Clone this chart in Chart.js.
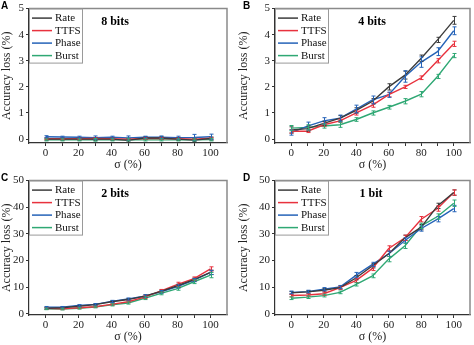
<!DOCTYPE html>
<html><head><meta charset="utf-8">
<script src="https://cdn.jsdelivr.net/npm/chart.js@4.4.0/dist/chart.umd.min.js"></script>
<style>
html,body{margin:0;padding:0;background:#fff;width:474px;height:345px;overflow:hidden}
.p{position:absolute;width:237px;height:172px}
.lab{position:absolute;font:bold 10px "Liberation Sans",Arial,sans-serif;color:#000}
</style></head><body>
<div class="p" style="left:0;top:0"><canvas id="cA" width="237" height="172"></canvas></div>
<div class="p" style="left:237px;top:0"><canvas id="cB" width="237" height="172"></canvas></div>
<div class="p" style="left:0;top:172px"><canvas id="cC" width="237" height="172"></canvas></div>
<div class="p" style="left:237px;top:172px"><canvas id="cD" width="237" height="172"></canvas></div>
<div class="lab" style="left:1px;top:0px">A</div>
<div class="lab" style="left:243px;top:0px">B</div>
<div class="lab" style="left:1px;top:172px">C</div>
<div class="lab" style="left:243px;top:172px">D</div>
<script>
// ---- data ----
const sigma = [0,10,20,30,40,50,60,70,80,90,100];
const seriesNames = ["Rate","TTFS","Phase","Burst"];
const ticksSmall = [0,1,2,3,4,5];
const ticksLarge = [0,10,20,30,40,50];
const xTickVals = [0,10,20,30,40,50,60,70,80,90,100];

// 8 bits
const rate8  = [0.00,0.00,0.00,0.00,0.00,-0.05,0.04,0.04,0.00,-0.04,0.02];
const ttfs8  = [0.01,0.01,0.01,0.02,0.01,0.00,0.02,0.02,0.01,0.00,0.03];
const phase8 = [0.09,0.08,0.07,0.05,0.07,0.04,0.07,0.07,0.05,0.06,0.09];
const burst8 = [-0.03,-0.03,-0.03,-0.03,-0.03,-0.02,-0.03,-0.03,-0.03,-0.03,-0.02];
const rate8Err  = [0.04,0.04,0.04,0.05,0.04,0.06,0.05,0.05,0.05,0.06,0.06];
const ttfs8Err  = [0.03,0.03,0.03,0.03,0.03,0.03,0.03,0.03,0.03,0.03,0.03];
const phase8Err = [0.04,0.03,0.04,0.07,0.04,0.08,0.04,0.05,0.06,0.12,0.1];
const burst8Err = [0.04,0.04,0.04,0.05,0.04,0.05,0.04,0.04,0.04,0.04,0.05];

// 4 bits
const rate4  = [0.35,0.40,0.60,0.80,1.10,1.45,2.00,2.45,3.10,3.80,4.55];
const ttfs4  = [0.30,0.30,0.55,0.70,1.00,1.30,1.70,2.00,2.35,3.00,3.65];
const phase4 = [0.25,0.50,0.70,0.80,1.15,1.50,1.70,2.40,2.95,3.35,4.15];
const burst4 = [0.42,0.45,0.50,0.55,0.75,1.00,1.22,1.45,1.72,2.40,3.20];
const rate4Err  = [0.12,0.10,0.08,0.10,0.10,0.10,0.12,0.15,0.12,0.10,0.15];
const ttfs4Err  = [0.07,0.05,0.06,0.06,0.08,0.08,0.08,0.06,0.07,0.08,0.10];
const phase4Err = [0.10,0.15,0.12,0.12,0.15,0.15,0.10,0.22,0.20,0.15,0.15];
const burst4Err = [0.10,0.10,0.08,0.10,0.07,0.08,0.07,0.10,0.10,0.08,0.08];

// 2 bits
const rate2  = [2.0,2.2,2.8,3.4,4.5,5.3,6.6,8.4,10.5,12.8,15.5];
const ttfs2  = [2.0,1.8,2.2,2.6,3.5,4.5,6.2,8.6,11.0,13.2,16.8];
const phase2 = [2.4,2.4,3.1,3.5,4.6,5.5,6.6,8.2,10.2,12.6,15.5];
const burst2 = [1.8,1.7,2.0,2.5,3.3,4.0,5.8,7.6,9.4,12.0,14.5];
const rate2Err  = [0.4,0.3,0.3,0.3,0.4,0.4,0.5,0.5,0.6,0.6,0.8];
const ttfs2Err  = [0.3,0.3,0.3,0.3,0.4,0.4,0.5,0.5,0.8,0.6,0.8];
const phase2Err = [0.3,0.3,0.3,0.3,0.4,0.4,0.5,0.5,0.6,0.6,0.8];
const burst2Err = [0.3,0.3,0.3,0.3,0.4,0.4,0.5,0.5,0.6,0.7,1.0];

// 1 bit
const rate1  = [7.8,8.2,8.8,9.8,13.5,18.0,22.5,28.5,32.5,40.5,45.5];
const ttfs1  = [6.8,7.0,7.5,9.8,12.5,17.0,24.5,28.5,35.5,39.5,45.5];
const phase1 = [8.0,8.3,9.2,10.0,14.5,18.5,22.5,27.5,32.0,35.5,39.5];
const burst1 = [5.8,6.2,6.8,8.0,11.0,14.2,20.5,25.5,33.0,36.5,41.5];
const rate1Err  = [0.5,0.5,0.6,0.6,0.8,0.8,1.0,1.0,1.0,1.0,1.0];
const ttfs1Err  = [0.5,0.5,0.6,0.6,0.8,0.8,1.0,1.0,1.0,1.0,1.0];
const phase1Err = [0.5,0.5,0.6,0.6,1.0,0.8,1.0,1.0,1.0,1.0,1.2];
const burst1Err = [0.5,0.5,0.5,0.5,0.6,0.7,1.0,1.0,1.0,1.0,1.2];

const colors = ["#3c3c3c","#e8323e","#2563b8","#2fa874"];
const SERIF = '"Liberation Serif","Times New Roman",serif';

const errorBars = {
  id:'errorBars',
  afterDatasetsDraw(chart){
    const {ctx} = chart; const xs = chart.scales.x, ys = chart.scales.y;
    ctx.save();
    chart.data.datasets.forEach((ds)=>{
      ctx.strokeStyle = ds.borderColor; ctx.lineWidth = 1;
      ds.data.forEach((p,i)=>{
        const e = ds.err[i];
        const x = Math.round(xs.getPixelForValue(p.x))+0.5;
        const y1 = ys.getPixelForValue(p.y+e), y2 = ys.getPixelForValue(p.y-e);
        ctx.beginPath();
        ctx.moveTo(x,y1); ctx.lineTo(x,y2);
        ctx.moveTo(x-2,y1); ctx.lineTo(x+2,y1);
        ctx.moveTo(x-2,y2); ctx.lineTo(x+2,y2);
        ctx.stroke();
      });
    });
    ctx.restore();
  }
};

const frameLegend = {
  id:'frameLegend',
  afterDraw(chart, args, opts){
    const {ctx, chartArea:a} = chart;
    ctx.save();
    ctx.strokeStyle = "#8a8a8a"; ctx.lineWidth = 1.5;
    ctx.beginPath();
    ctx.moveTo(a.left, a.top); ctx.lineTo(a.right, a.top); ctx.lineTo(a.right, a.bottom);
    ctx.stroke();
    const lx = a.left, ly = a.top, lw = opts.lw, lh = 54;
    ctx.fillStyle = "#fff"; ctx.fillRect(lx+0.5, ly+0.5, lw, lh);
    ctx.strokeStyle = "#9a9a9a"; ctx.lineWidth = 1;
    ctx.strokeRect(lx+0.5, ly+0.5, lw, lh);
    ctx.font = '11px ' + SERIF; ctx.textBaseline = 'middle'; ctx.textAlign = 'left';
    chart.data.datasets.forEach((ds,i)=>{
      const yy = ly + 9.5 + i*12.5;
      ctx.strokeStyle = ds.borderColor; ctx.lineWidth = 1.5;
      ctx.beginPath(); ctx.moveTo(lx+3, yy); ctx.lineTo(lx+23, yy); ctx.stroke();
      ctx.fillStyle = "#111"; ctx.fillText(ds.label, lx+26, yy+0.5);
    });
    ctx.font = 'bold 12px ' + SERIF; ctx.fillStyle = "#000"; ctx.textAlign = 'center';
    ctx.fillText(opts.title, opts.tx, a.top + 13);
    ctx.restore();
  }
};

function makeChart(id, vals, errs, yTicks, yMin, yMax, leftW, rightPad, title, tx){
  const datasets = seriesNames.map((n,i)=>({
    label:n, data:vals[i].map((v,j)=>({x:sigma[j], y:v})), err:errs[i],
    borderColor:colors[i], backgroundColor:colors[i],
    borderWidth:1.4, pointRadius:0, tension:0
  }));
  return new Chart(document.getElementById(id), {
    type:'line',
    data:{ datasets },
    options:{
      responsive:false, animation:false, events:[],
      layout:{padding:{top:3, right:rightPad, bottom:0, left:0}},
      plugins:{legend:{display:false}, tooltip:{enabled:false}, frameLegend:{title, tx, lw:53}},
      scales:{
        x:{ type:'linear', min:-10, max:110,
            afterBuildTicks:s=>{ s.ticks = xTickVals.map(v=>({value:v})); },
            afterFit:s=>{ s.height = 29; },
            border:{color:'#333', width:1.2},
            grid:{drawOnChartArea:false, drawTicks:true, tickLength:3, color:'#333'},
            ticks:{ autoSkip:false, maxRotation:0, padding:1, color:'#222',
                    font:{family:SERIF, size:11},
                    callback:v=> (v%20===0 ? String(v) : '') },
            title:{display:true, text:'σ (%)', color:'#222', font:{family:SERIF, size:12}, padding:{top:0,bottom:0}} },
        y:{ type:'linear', min:yMin, max:yMax,
            afterBuildTicks:s=>{ s.ticks = yTicks.map(v=>({value:v})); },
            afterFit:s=>{ s.width = leftW; },
            border:{color:'#333', width:1.2},
            grid:{drawOnChartArea:false, drawTicks:true, tickLength:3, color:'#333'},
            ticks:{ padding:2, color:'#222', font:{family:SERIF, size:11} },
            title:{display:true, text:'Accuracy loss (%)', color:'#222', font:{family:SERIF, size:12}, padding:{top:0,bottom:0}} }
      }
    },
    plugins:[errorBars, frameLegend]
  });
}

makeChart('cA',[rate8,ttfs8,phase8,burst8],[rate8Err,ttfs8Err,phase8Err,burst8Err],ticksSmall,-0.15,5,29,10,'8 bits',115);
makeChart('cB',[rate4,ttfs4,phase4,burst4],[rate4Err,ttfs4Err,phase4Err,burst4Err],ticksSmall,-0.15,5,38,4,'4 bits',135);
makeChart('cC',[rate2,ttfs2,phase2,burst2],[rate2Err,ttfs2Err,phase2Err,burst2Err],ticksLarge,-0.5,50,29,10,'2 bits',115);
makeChart('cD',[rate1,ttfs1,phase1,burst1],[rate1Err,ttfs1Err,phase1Err,burst1Err],ticksLarge,-0.5,50,38,4,'1 bit',134);
</script>
</body></html>
